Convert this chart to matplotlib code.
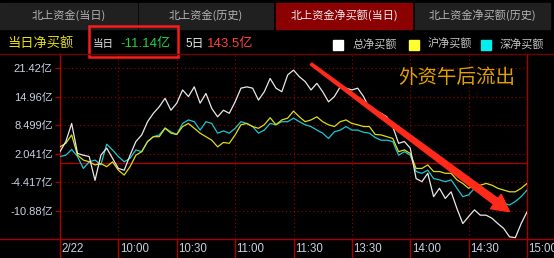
import numpy as np
import matplotlib.pyplot as plt
from matplotlib.patches import Rectangle, Polygon
from matplotlib.lines import Line2D
from matplotlib.transforms import IdentityTransform, ScaledTranslation

# minutes since 9:30, one reading every 3 minutes (11:30 joins 13:00)
minutes = np.arange(0, 241, 3)

total_net = [
    2.5, 4.8, 8.9, 2.1, 1.7, 1.4, -4.0, 1.7, 3.3, 1.0,
    -1.3, -1.7, 1.7, 4.8, 6.3, 9.3, 11.2, 12.7, 14.6, 11.9,
    13.5, 16.5, 15.0, 17.2, 13.5, 15.7, 12.3, 10.4, 11.9, 11.2,
    13.8, 16.9, 17.2, 16.9, 14.2, 16.1, 19.1, 16.9, 16.1, 19.9,
    21.0, 19.5, 18.4, 16.5, 18.0, 16.1, 13.8, 15.0, 17.2, 16.9,
    16.5, 16.9, 15.0, 12.3, 11.9, 11.2, 10.4, 8.2, 4.4, 4.8,
    3.3, -3.6, -4.3, -2.4, -7.7, -5.8, -8.1, -6.6, -10.4, -13.8,
    -12.2, -10.7, -11.9, -11.9, -12.6, -13.8, -14.9, -16.8, -17.0, -13.8,
    -11.14,
]
sh_net = [
    3.6, 4.4, 6.3, 1.7, 0.6, 0.2, -0.5, -0.2, -0.9, 0.2,
    -1.7, -2.8, -0.9, 1.7, 2.5, 4.8, 5.9, 5.9, 7.8, 6.7,
    6.4, 8.2, 8.9, 7.8, 6.7, 5.9, 5.1, 3.6, 4.6, 4.4,
    6.3, 8.6, 8.9, 8.2, 7.8, 8.6, 10.2, 8.6, 9.7, 10.1,
    11.7, 10.4, 9.3, 9.7, 10.4, 9.3, 8.6, 8.2, 9.3, 9.7,
    8.9, 8.6, 8.2, 8.2, 6.4, 6.3, 5.9, 5.5, 2.5, 2.9,
    2.1, -1.3, -1.3, -0.5, -2.0, -2.0, -2.4, -2.4, -3.9, -4.7,
    -5.8, -5.1, -5.1, -4.7, -5.1, -5.8, -6.2, -6.6, -6.6, -5.8,
    -4.7,
]
sz_net = [
    1.4, 1.7, 3.0, 1.4, -1.3, 0.2, 0.6, -0.5, 4.2, 2.9,
    1.4, 0.2, 1.0, 2.9, 2.5, 4.8, 5.9, 6.3, 7.9, 7.0,
    6.4, 8.9, 9.7, 9.3, 7.4, 9.3, 8.9, 6.7, 7.2, 6.7,
    7.8, 9.3, 8.9, 8.2, 6.7, 7.4, 8.9, 8.6, 9.3, 9.3,
    10.1, 9.3, 8.6, 8.2, 7.4, 6.7, 5.5, 7.0, 7.4, 8.2,
    7.4, 7.4, 6.9, 6.7, 5.7, 5.1, 5.1, 4.8, 1.7, 2.5,
    1.7, -2.0, -2.4, -1.7, -3.6, -3.9, -4.3, -3.9, -5.8, -7.7,
    -7.3, -5.8, -6.6, -7.0, -7.3, -8.1, -9.2, -9.6, -8.8, -7.7,
    -6.2,
]

ytick_vals = [21.42, 14.96, 8.499, 2.041, -4.417, -10.88]
ytick_labels = ["21.42亿", "14.96亿", "8.499亿", "2.041亿", "-4.417亿", "-10.88亿"]
xtick_vals = [0, 30, 60, 90, 120, 150, 180, 210, 240]
xtick_labels = ["2/22", "10:00", "10:30", "11:00", "11:30", "13:30", "14:00", "14:30", "15:00"]
tabs = ["北上资金(当日)", "北上资金(历史)", "北上资金净买额(当日)", "北上资金净买额(历史)"]
series_names = ["总净买额", "沪净买额", "深净买额"]
today_net = -11.14
five_day_net = 143.5

W, H = 554, 258
RED = "#a80000"
CJK = "Noto Sans CJK SC"
NUM = ["Liberation Sans", CJK]
line_colors = ["#e8e8e8", "#dcdc18", "#18c8d4"]
swatch_colors = ["#ffffff", "#ffff30", "#00f0f0"]


def fx(x):
    return x / W


def fy(y):
    return 1 - y / H


fig = plt.figure(figsize=(W / 100, H / 100), dpi=100, facecolor="black")

# tab row
tab_spans = [(0, 137), (139, 273), (276, 412), (415, 550)]
for i, (x0, x1) in enumerate(tab_spans):
    active = i == 2
    fig.add_artist(Rectangle((fx(x0), fy(28.5)), fx(x1) - fx(x0), fy(3) - fy(28.5),
                             transform=fig.transFigure,
                             color="#8b0000" if active else "#202020"))
    fig.text(fx((x0 + x1) / 2), fy(15.5), tabs[i], ha="center", va="center",
             fontsize=8, family=CJK, color="#f0f0f0" if active else "#b4b4b4")

# info row
fig.text(fx(7), fy(43.5), "当日净买额", ha="left", va="center", fontsize=9.5,
         family=CJK, color="#e5e010")
fig.add_artist(Rectangle((fx(88.5), fy(57)), fx(178) - fx(88.5), fy(26) - fy(57),
                         transform=fig.transFigure, fill=False,
                         edgecolor="#ff1a1a", lw=1.8))
fig.text(fx(93), fy(44), "当日", ha="left", va="center", fontsize=7.6,
         family=CJK, color="#e6e6e6")
fig.text(fx(120), fy(44), f"{today_net:.2f}亿", ha="left", va="center",
         fontsize=9.5, family=NUM, color="#20d040")
fig.text(fx(185), fy(44), "5日", ha="left", va="center", fontsize=8.5,
         family=NUM, color="#e6e6e6")
fig.text(fx(207), fy(44), f"{five_day_net}亿", ha="left", va="center",
         fontsize=9.5, family=NUM, color="#ff4040")
for sq_x, name, c in zip([333, 409, 481], series_names, swatch_colors):
    fig.add_artist(Rectangle((fx(sq_x), fy(49.5)), fx(10), fy(40) - fy(49.5),
                             transform=fig.transFigure, color=c))
    fig.text(fx(sq_x + 19), fy(44.5), name, ha="left", va="center", fontsize=8,
             family=CJK, color="#c4c4c4")

# full-width separator lines
fig.add_artist(Line2D([0, 1], [fy(54), fy(54)], color="#700000", lw=1))
fig.add_artist(Line2D([0, 1], [fy(239), fy(239)], color=RED, lw=1))

# main chart
ax = fig.add_axes([fx(60), fy(239), fx(527) - fx(60), fy(54) - fy(239)])
ax.set_facecolor("black")
ax.set_xlim(0, 240)
ax.set_ylim(-17.3, 24.65)

ax.plot(minutes, sz_net, color=line_colors[2], lw=0.9, zorder=3)
ax.plot(minutes, sh_net, color=line_colors[1], lw=0.9, zorder=3)
ax.plot(minutes, total_net, color=line_colors[0], lw=0.9, zorder=4)

ax.set_yticks(ytick_vals, ytick_labels)
ax.set_xticks(xtick_vals, [])
ax.grid(True, color="#9a0000", linestyle=(0, (1, 2.5)), linewidth=0.8)
ax.axhline(0, color=RED, lw=1)
for side in ["top", "bottom"]:
    ax.spines[side].set_visible(False)
for side in ["left", "right"]:
    ax.spines[side].set_color(RED)
    ax.spines[side].set_linewidth(1)
ax.tick_params(axis="y", colors=RED, labelcolor="#c8d0e0", length=3.6, width=1,
               pad=1.5, labelsize=8)
ax.tick_params(axis="x", colors=RED, length=13.7, width=1)
for lab in ax.get_yticklabels():
    lab.set_family(NUM)

xoff = ax.get_xaxis_transform() + ScaledTranslation(0.015, -0.135, fig.dpi_scale_trans)
for t, lab in zip(xtick_vals, xtick_labels):
    ax.text(t, 0, lab, transform=xoff, ha="left", va="baseline", fontsize=8.3,
            family=NUM, color="#c8d0e0", clip_on=False)

# callout text and the red arrow
fig.text(fx(456.5), fy(77.5), "外资午后流出", ha="center", va="center",
         fontsize=14, family=CJK, color="#e0a000")

p0 = ax.transData.transform((129.0, 22.4))
p1 = ax.transData.transform((231.0, -11.1))
u = (p1 - p0) / np.hypot(*(p1 - p0))
n = np.array([-u[1], u[0]])
base = p1 - u * 17
pts = [p0 + n * 1.2, base + n * 3.6, base + n * 9, p1,
       base - n * 9, base - n * 3.6, p0 - n * 1.2]
fig.add_artist(Polygon(pts, closed=True, transform=IdentityTransform(),
                       color="#ff2a1a", zorder=10))

fig.savefig("out.png", dpi=100, facecolor="black")
